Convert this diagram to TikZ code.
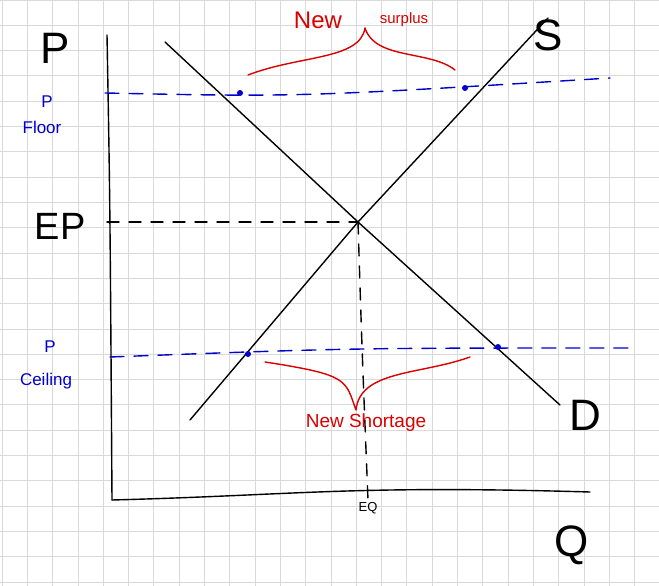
\documentclass[tikz,border=0pt]{standalone}
\usepackage{fontspec}
\setmainfont{Liberation Sans}
\begin{document}
\begin{tikzpicture}[x=1pt,y=-1pt,
  ink/.style={line width=1.4pt,line cap=round,line join=round},
  bl/.style={ink,blue!80!black,dash pattern=on 14pt off 10pt},
  kd/.style={ink,black,dash pattern=on 12pt off 10pt},
  rd/.style={ink,red!85!black},
  dotb/.style={circle,fill=blue!80!black,inner sep=0pt,minimum size=6pt},
  bt/.style={text=blue!80!black,font=\fontsize{17}{17}\selectfont},
  big/.style={font=\fontsize{44}{44}\selectfont},
  rt/.style={text=red!85!black}]
\useasboundingbox (0,0) rectangle (659,586);
\fill[white] (0,0) rectangle (659,586);
\foreach \i in {0,...,26} {\draw[gray!30,line width=0.8pt] (2+25.3*\i,0) -- (2+25.3*\i,586);}
\foreach \i in {0,...,23} {\draw[gray!30,line width=0.8pt] (0,25.3*\i) -- (659,25.3*\i);}
% axes
\coordinate (ytop) at (107,35);
\coordinate (orig) at (112,500);
\coordinate (xend) at (590,492);
\draw[ink] (ytop) .. controls (110,200) .. (orig);
\draw[ink] (orig) .. controls (300,495) and (350,485) .. (xend);
% curves
\coordinate (eq) at (358,222);
\coordinate (s0) at (190,420); \coordinate (s1) at (548,18);
\coordinate (d0) at (165,42); \coordinate (d1) at (560,405);
\draw[ink] (s0) -- (eq) -- (s1);
\draw[ink] (d0) -- (eq) -- (d1);
\coordinate (epl) at (107,222);
\coordinate (eqb) at (368,500);
\draw[kd] (epl) -- (eq);
\draw[kd] (eq) .. controls (362,350) .. (eqb);
% floor & ceiling
\coordinate (f0) at (105,93); \coordinate (f1) at (610,78);
\draw[bl] (f0) .. controls (300,97) .. (f1);
\node[dotb] (fa) at (240,93) {};
\node[dotb] (fb) at (465,88) {};
\coordinate (c0) at (110,357); \coordinate (c1) at (630,348);
\draw[bl] (c0) .. controls (350,348) .. (c1);
\node[dotb] (ca) at (248,354) {};
\node[dotb] (cb) at (498,347) {};
% braces
\coordinate (b1) at (248,75); \coordinate (bt1) at (365,28); \coordinate (b2) at (455,70);
\draw[rd] (b1) .. controls (300,55) and (360,60) .. (bt1) .. controls (375,60) and (430,50) .. (b2);
\coordinate (b3) at (265,362); \coordinate (bt2) at (356,410); \coordinate (b4) at (470,357);
\draw[rd] (b3) .. controls (350,375) and (345,380) .. (bt2) .. controls (360,370) and (420,375) .. (b4);
% labels
\node[big] (lp) at (55,48) {P};
\node[font=\fontsize{38}{38}\selectfont] (lep) at (60,226) {EP};
\node[big] (lq) at (572,545) {Q};
\node[big] (ls) at (548,35) {S};
\node[big] (ld) at (585,415) {D};
\node[font=\fontsize{13}{13}\selectfont] (leq) at (368,508) {EQ};
\node[bt] (pf1) at (47,102) {P};
\node[bt] (pf2) at (42,127) {Floor};
\node[bt] (pc1) at (50,347) {P};
\node[bt] (pc2) at (46,381) {Ceiling};
\node[rt,font=\fontsize{24}{24}\selectfont] (ns1) at (318,20) {New};
\node[rt,font=\fontsize{15}{15}\selectfont] (ns2) at (404,20) {surplus};
\node[rt,font=\fontsize{19}{19}\selectfont] (nsh) at (366,423) {New Shortage};
\end{tikzpicture}
\end{document}
